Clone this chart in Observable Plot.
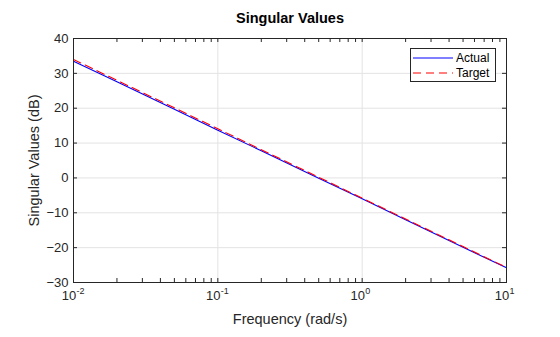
<!DOCTYPE html>
<html>
<head>
<meta charset="utf-8">
<script src="https://cdn.jsdelivr.net/npm/d3@7"></script>
<script src="https://cdn.jsdelivr.net/npm/@observablehq/plot@0.6"></script>
<style>
  html, body { margin: 0; padding: 0; background: #ffffff; }
  #chart { width: 560px; height: 337px; }
</style>
</head>
<body>
<div id="chart"></div>
<script>
// ---- data ----
const freq = [0.01, 0.02, 0.05, 0.1, 0.2, 0.5, 1, 2, 5, 10];
const actualDb = [33.5, 27.6, 19.7, 13.7, 7.8, -0.1, -6.0, -12.0, -19.9, -25.8];
const targetDb = [34.0, 28.0, 20.1, 14.1, 8.1, 0.2, -5.8, -11.8, -19.7, -25.7];
const seriesNames = ["Actual", "Target"];
const xMajorTicks = [0.01, 0.1, 1, 10];
const xTickExponents = ["-2", "-1", "0", "1"];
const xMinorTicks = [0.02,0.03,0.04,0.05,0.06,0.07,0.08,0.09,0.2,0.3,0.4,0.5,0.6,0.7,0.8,0.9,2,3,4,5,6,7,8,9];
const yTicks = [-30, -20, -10, 0, 10, 20, 30, 40];
const titleText = "Singular Values";
const xLabel = "Frequency (rad/s)";
const yLabel = "Singular Values (dB)";

const actual = freq.map((f, i) => ({f, db: actualDb[i]}));
const target = freq.map((f, i) => ({f, db: targetDb[i]}));

const W = 560, H = 337, mT = 38, mB = 55, mL = 73, mR = 54;
const fh = H - mT - mB, fw = W - mL - mR;
const ink = "#262626";
const font = "'Liberation Sans', Arial, Helvetica, sans-serif";
const allXTicks = xMajorTicks.concat(xMinorTicks);

const chart = Plot.plot({
  width: W, height: H,
  marginTop: mT, marginBottom: mB, marginLeft: mL, marginRight: mR,
  style: {fontFamily: font, color: ink, background: "#ffffff"},
  x: {type: "log", domain: [0.01, 10], label: null},
  y: {domain: [-30, 40], label: null},
  marks: [
    Plot.gridX(xMajorTicks, {stroke: "#e3e3e3", strokeOpacity: 1}),
    Plot.gridY(yTicks, {stroke: "#e3e3e3", strokeOpacity: 1}),
    Plot.line(actual, {x: "f", y: "db", stroke: "#0000ff", strokeWidth: 1.1}),
    Plot.line(target, {x: "f", y: "db", stroke: "#ff0000", strokeWidth: 1.1, strokeDasharray: "8,5"}),
    // inward ticks on all four sides
    Plot.tickX(allXTicks, {x: d => d, insetTop: fh - 4, stroke: ink}),
    Plot.tickX(allXTicks, {x: d => d, insetBottom: fh - 4, stroke: ink}),
    Plot.tickY(yTicks, {y: d => d, insetRight: fw - 4, stroke: ink}),
    Plot.tickY(yTicks, {y: d => d, insetLeft: fw - 4, stroke: ink}),
    Plot.frame({stroke: ink, strokeWidth: 1}),
    Plot.axisY(yTicks, {tickSize: 0, tickPadding: 5, fontSize: 13, label: null, fill: ink}),
    Plot.axisX({ticks: [], tickSize: 0, label: null}),
    // x tick labels 10^n
    Plot.text(xMajorTicks, {x: d => d, text: () => "10", frameAnchor: "bottom", lineAnchor: "middle", textAnchor: "middle", dy: 13.5, dx: -4.5, fontSize: 13, fill: ink}),
    Plot.text(xMajorTicks, {x: d => d, text: (d, i) => xTickExponents[i], frameAnchor: "bottom", lineAnchor: "middle", textAnchor: "start", dy: 8.5, dx: 3, fontSize: 9, fill: ink}),
    Plot.text([xLabel], {frameAnchor: "bottom", lineAnchor: "middle", textAnchor: "middle", dy: 37, fontSize: 14.5, fill: ink}),
    Plot.text([yLabel], {frameAnchor: "left", lineAnchor: "middle", textAnchor: "middle", rotate: -90, dx: -39, fontSize: 14.5, fill: ink}),
    Plot.text([titleText], {frameAnchor: "top", lineAnchor: "middle", textAnchor: "middle", dy: -20, fontSize: 14.5, fontWeight: "bold", fill: "#000000"})
  ]
});

document.getElementById("chart").appendChild(chart);

// legend
const svg = d3.select(chart);
const lg = svg.append("g").attr("font-family", font).attr("font-size", 12).attr("text-anchor", "start");
lg.append("rect").attr("x", 410.5).attr("y", 48.5).attr("width", 85).attr("height", 33)
  .attr("fill", "#ffffff").attr("stroke", ink).attr("stroke-width", 1);
const legendStyles = [
  {stroke: "#0000ff", dash: null},
  {stroke: "#ff0000", dash: "8,5"}
];
seriesNames.forEach((name, i) => {
  const y = 58 + i * 15;
  lg.append("line").attr("x1", 413).attr("x2", 453).attr("y1", y).attr("y2", y)
    .attr("stroke", legendStyles[i].stroke).attr("stroke-width", 1.1)
    .attr("stroke-dasharray", legendStyles[i].dash);
  lg.append("text").attr("x", 456).attr("y", y).attr("dy", "0.36em")
    .attr("text-anchor", "start").attr("fill", "#000000").text(name);
});
</script>
</body>
</html>
